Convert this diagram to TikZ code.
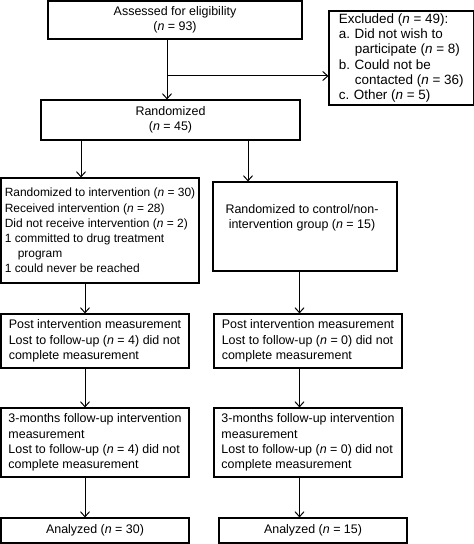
\documentclass[tikz,border=0pt]{standalone}
\usepackage{fontspec}
\setmainfont{Liberation Sans}
\usetikzlibrary{arrows.meta}
\begin{document}
\begin{tikzpicture}[x=1bp,y=-1bp,
  box/.style={draw, line width=1.1bp, inner sep=0pt, align=left,
    font=\fontsize{12.5}{15.4}\selectfont},
  ctext/.style={align=center, inner sep=0pt, font=\fontsize{12.5}{15.4}\selectfont},
  arr/.style={line width=1bp, -{Straight Barb[length=5bp,width=9bp,line width=1bp]}}]
\useasboundingbox (0,0) rectangle (474,544);
\node[box, align=center, minimum width=254bp, minimum height=38bp] (assess) at (175,20)
  {Assessed for eligibility\\(\textit{n} = 93)};
\node[box, minimum width=144.5bp, minimum height=94bp,
  font=\fontsize{13.5}{15.4}\selectfont] (excl) at (401.25,58)
  {Excluded (\textit{n} = 49):\\
   a.\hspace{4.5bp}Did not wish to\\
   \hspace*{16bp}participate (\textit{n} = 8)\\
   b.\hspace{4.5bp}Could not be\\
   \hspace*{16bp}contacted (\textit{n} = 36)\\
   c.\hspace{4.5bp}Other (\textit{n} = 5)};
\node[box, align=center, minimum width=259bp, minimum height=40bp] (rand) at (170.5,120)
  {\rule{0pt}{8bp}Randomized\\(\textit{n} = 45)};
\node[box, minimum width=198bp, minimum height=105bp,
  font=\fontsize{12}{15.2}\selectfont] (int) at (100,230.5)
  {Randomized to intervention (\textit{n} = 30)\\
   Received intervention (\textit{n} = 28)\\
   Did not receive intervention (\textit{n} = 2)\\
   1 committed to drug treatment\\
   \hspace*{13bp}program\\
   1 could never be reached};
\node[box, minimum width=184bp, minimum height=89bp] (ctrl) at (305,226.5) {};
\node[ctext] (ctrltext) at (302,217.5)
  {Randomized to control/non-\\intervention group (\textit{n} = 15)};
\node[box, minimum width=188bp, minimum height=54bp] (post1) at (95,341)
  {Post intervention measurement\\
   Lost to follow-up (\textit{n} = 4) did not\\
   complete measurement};
\node[box, minimum width=188bp, minimum height=54bp] (post2) at (308,341)
  {Post intervention measurement\\
   Lost to follow-up (\textit{n} = 0) did not\\
   complete measurement};
\node[box, minimum width=188bp, minimum height=69bp] (fu1) at (95,442.5)
  {3-months follow-up intervention\\
   measurement\\
   Lost to follow-up (\textit{n} = 4) did not\\
   complete measurement};
\node[box, minimum width=188bp, minimum height=69bp] (fu2) at (308,442.5)
  {3-months follow-up intervention\\
   measurement\\
   Lost to follow-up (\textit{n} = 0) did not\\
   complete measurement};
\node[box, align=center, minimum width=188bp, minimum height=25bp] (an1) at (95,530.5)
  {Analyzed (\textit{n} = 30)};
\node[box, align=center, minimum width=188bp, minimum height=25bp] (an2) at (313,530.5)
  {Analyzed (\textit{n} = 15)};
% connector columns
\coordinate (m1) at (167,76);
\coordinate (cA) at (81,0);
\coordinate (cB) at (248,0);
\coordinate (cL) at (85,0);
\coordinate (cR) at (299.5,0);
\draw[arr] (m1 |- assess.south) -- (m1 |- rand.north);
\draw[arr] (m1) -- (m1 -| excl.west);
\draw[arr] (cA |- rand.south) -- (cA |- int.north);
\draw[arr] (cB |- rand.south) -- (cB |- ctrl.north);
\draw[arr] (cL |- int.south) -- (cL |- post1.north);
\draw[arr] (cR |- ctrl.south) -- (cR |- post2.north);
\draw[arr] (cL |- post1.south) -- (cL |- fu1.north);
\draw[arr] (cR |- post2.south) -- (cR |- fu2.north);
\draw[arr] (cL |- fu1.south) -- (cL |- an1.north);
\draw[arr] (cR |- fu2.south) -- (cR |- an2.north);
\end{tikzpicture}
\end{document}
